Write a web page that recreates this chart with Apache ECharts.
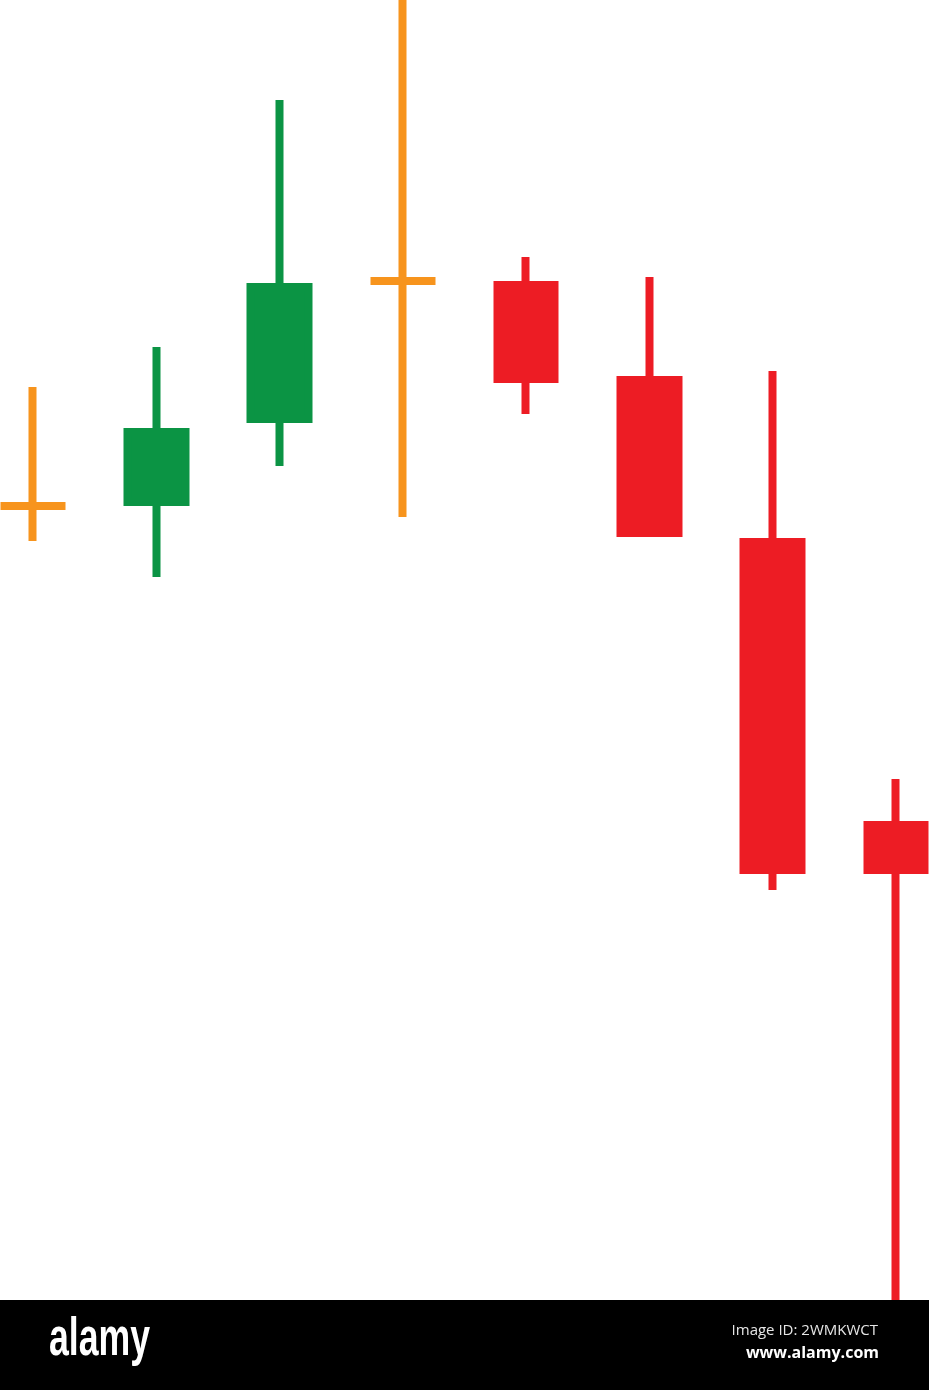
<!DOCTYPE html>
<html>
<head>
<meta charset="utf-8">
<script src="https://cdn.jsdelivr.net/npm/echarts@6/dist/echarts.min.js"></script>
<style>
html,body{margin:0;padding:0;background:#fff;}
#chart{width:929px;height:1390px;}
</style>
</head>
<body>
<div id="chart"></div>
<script>
// Candle sessions (x positions) and OHLC values (vertical units)
const sessions = [0, 1, 2, 3, 4, 5, 6, 7];
const opens  = [794, 798, 881, 1019, 1015, 920, 758, 475];
const closes = [794, 868, 1013, 1019, 921, 767, 430, 430];
const lows   = [759, 723, 834, 783, 886, 767, 410, 0];
const highs  = [913, 953, 1200, 1300, 1043, 1023, 929, 521];

const UP = '#0b9444', DOWN = '#ed1c24', DOJI = '#f7941d';

const rows = sessions.map((s, i) => [s, opens[i], closes[i], lows[i], highs[i]]);
const bodyData = rows.filter(r => r[1] !== r[2]);
const dojiData = rows.filter(r => r[1] === r[2]);

const axisOff = { axisLine: { show: false }, axisTick: { show: false }, axisLabel: { show: false }, splitLine: { show: false } };

const chart = echarts.init(document.getElementById('chart'), null, { renderer: 'canvas' });
chart.setOption({
  animation: false,
  backgroundColor: '#ffffff',
  grid: { left: 0, right: 0, top: 0, bottom: 90 },
  xAxis: Object.assign({ type: 'value', min: -0.2677, max: 7.2677 }, axisOff),
  yAxis: Object.assign({ type: 'value', min: 0, max: 1300 }, axisOff),
  series: [{
    type: 'candlestick',
    data: bodyData,
    encode: { x: 0, y: [1, 2, 3, 4] },
    barWidth: 58,
    clip: false,
    itemStyle: { color: UP, color0: DOWN, borderColor: UP, borderColor0: DOWN, borderWidth: 8 }
  }, {
    type: 'candlestick',
    data: dojiData,
    encode: { x: 0, y: [1, 2, 3, 4] },
    barWidth: 66,
    clip: false,
    itemStyle: { color: DOJI, color0: DOJI, borderColor: DOJI, borderColor0: DOJI, borderColorDoji: DOJI, borderWidth: 8 }
  }],
  graphic: [
    { type: 'rect', left: 0, top: 1300, shape: { width: 929, height: 90 }, style: { fill: '#000' }, z: 100 },
    { type: 'text', x: 49, y: 1313, scaleX: 0.66, z: 101,
      style: { text: 'alamy', fill: '#fff', font: 'bold 54px "Liberation Sans", Arial, sans-serif' } },
    { type: 'text', right: 51, top: 1323, z: 101,
      style: { text: 'Image ID: 2WMKWCT', fill: '#e6e6e6', font: '15px "Open Sans", "Noto Sans", sans-serif' } },
    { type: 'text', right: 50, top: 1345, z: 101,
      style: { text: 'www.alamy.com', fill: '#fff', font: 'bold 16px "Open Sans", "Noto Sans", sans-serif' } }
  ]
});
</script>
</body>
</html>
